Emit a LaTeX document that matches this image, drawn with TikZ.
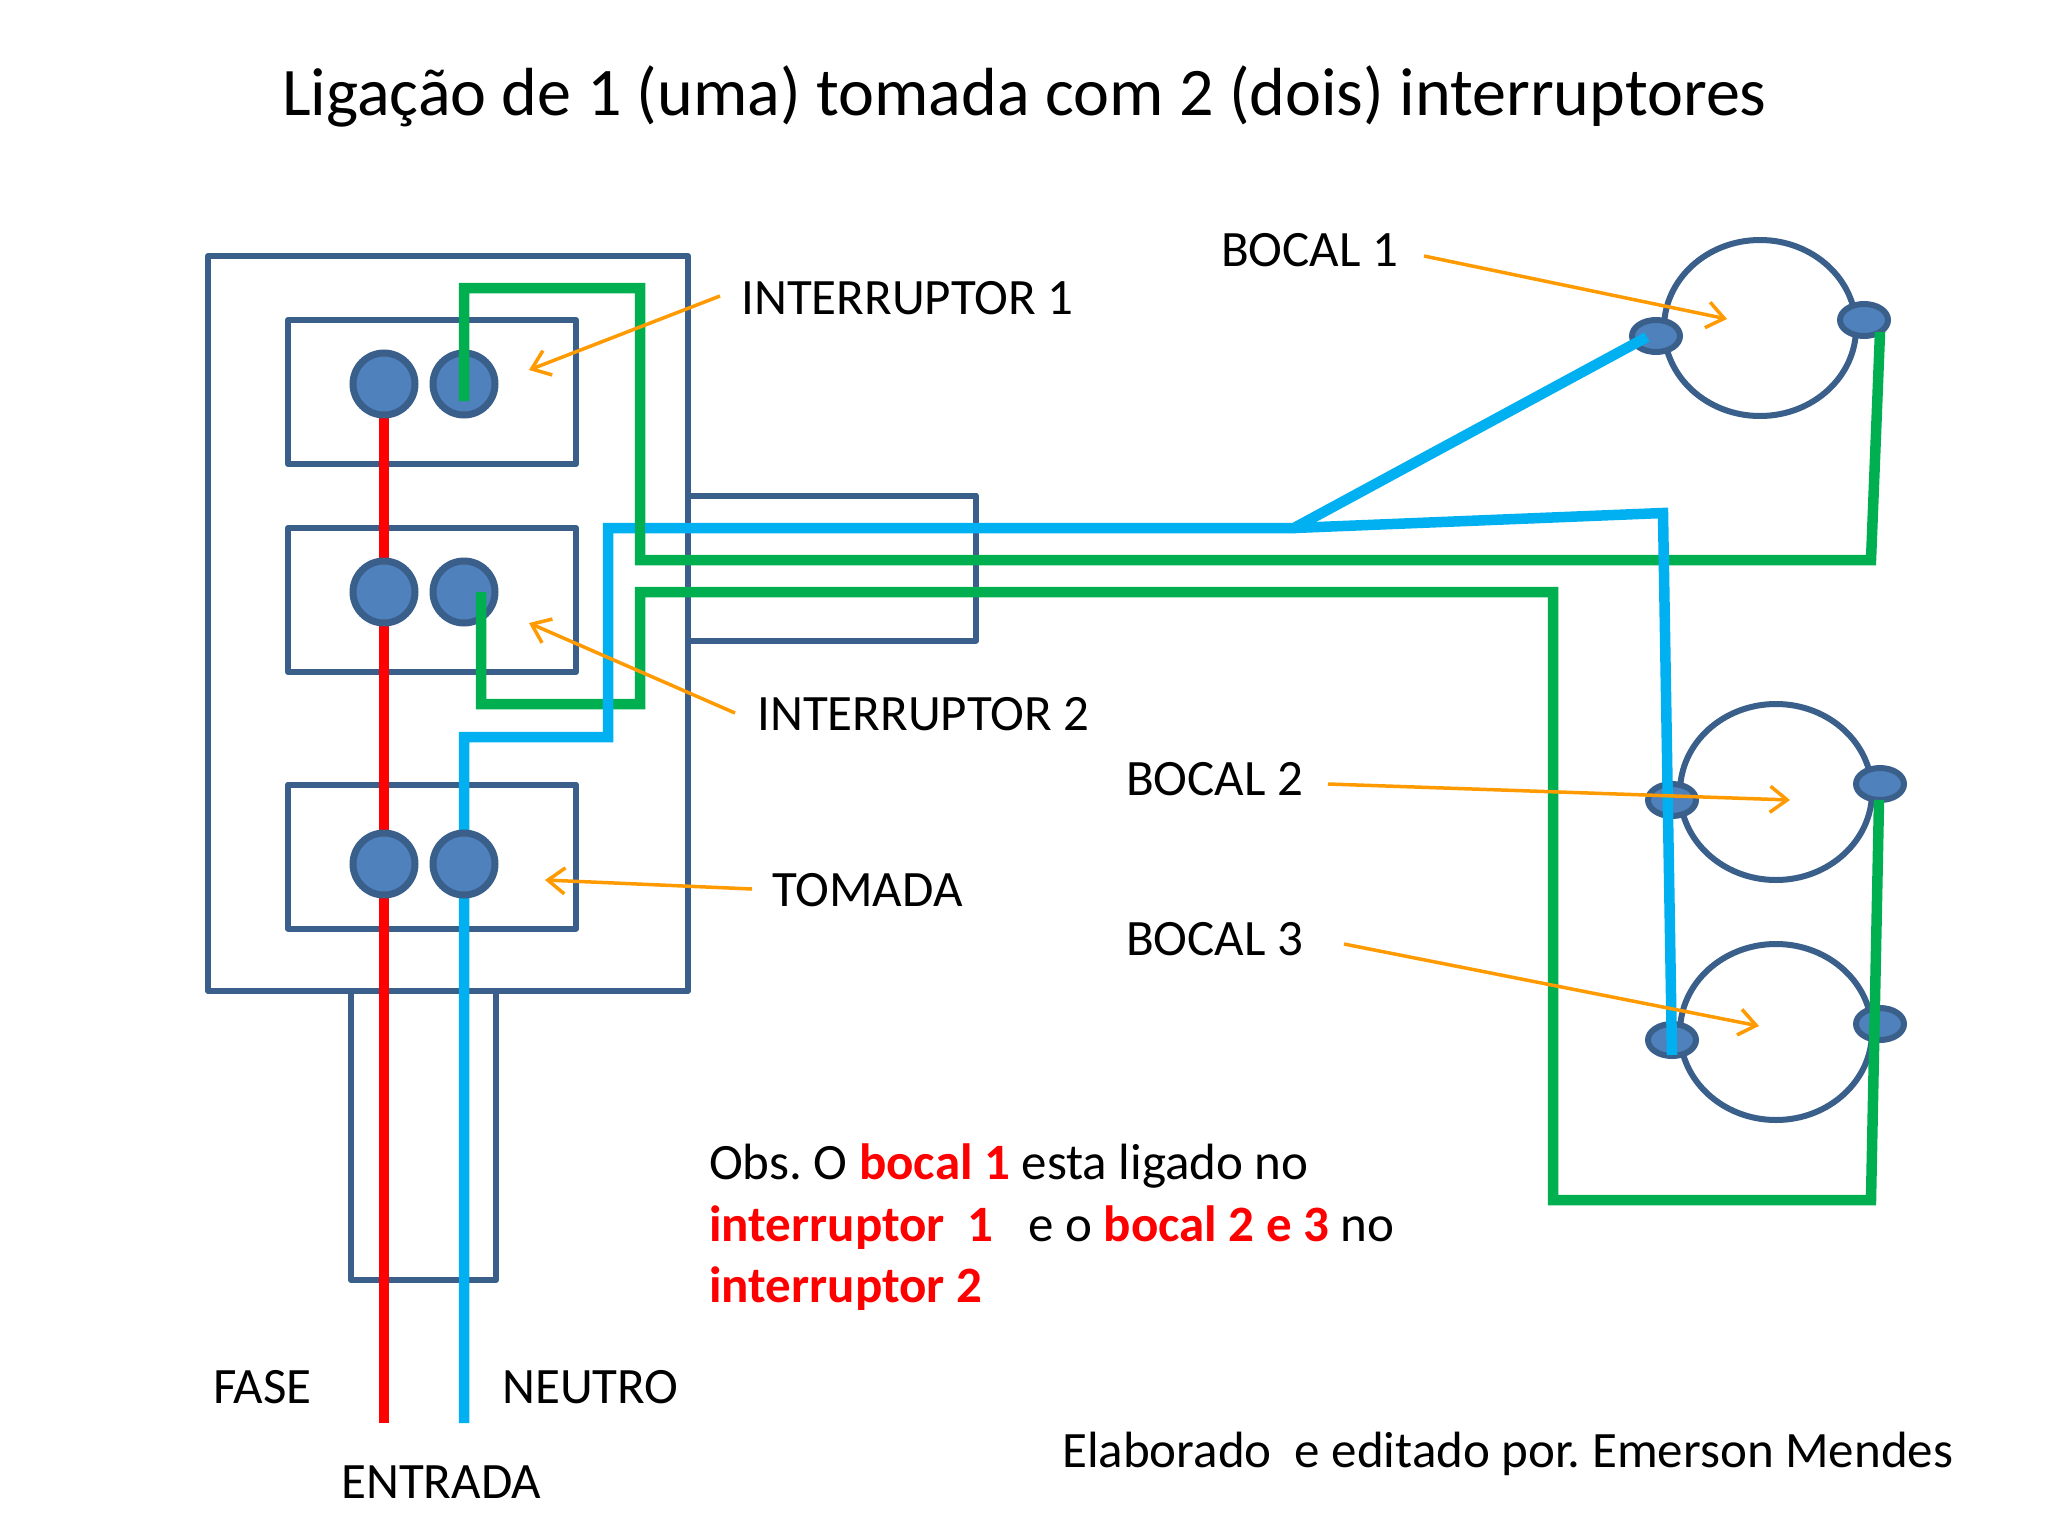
\documentclass[tikz,border=0pt]{standalone}
\usepackage{fontspec}
\setmainfont{Carlito}
\frenchspacing
\usetikzlibrary{arrows.meta,shapes.geometric}
\definecolor{edgeblue}{HTML}{3A5F8B}
\definecolor{fillblue}{HTML}{4F81BD}
\definecolor{wgreen}{HTML}{00B050}
\definecolor{wblue}{HTML}{00B0F0}
\definecolor{wred}{HTML}{FF0000}
\definecolor{callout}{HTML}{FF9A00}
\tikzset{
  framebox/.style={draw=edgeblue,line width=6pt,rectangle,inner sep=0pt,line join=round},
  terminal/.style={circle,draw=edgeblue,fill=fillblue,line width=7pt,inner sep=0pt,minimum size=62pt},
  lamp/.style={ellipse,draw=edgeblue,line width=6pt,inner sep=0pt,minimum width=192pt,minimum height=176pt},
  contact/.style={ellipse,draw=edgeblue,fill=fillblue,line width=6pt,inner sep=0pt,minimum width=48pt,minimum height=32pt},
  wire/.style={line width=10.5pt,line join=miter,line cap=butt},
  greenwire/.style={wire,draw=wgreen},
  bluewire/.style={wire,draw=wblue},
  redwire/.style={wire,draw=wred},
  pointer/.style={draw=callout,line width=3.5pt,-{Straight Barb[length=17pt,width=26pt,line width=3.5pt]}},
  label/.style={anchor=base west,inner sep=0pt,font=\fontsize{51}{51}\selectfont}
}
\newcommand{\hl}[1]{\textcolor{wred}{\textbf{#1}}}
\begin{document}
\begin{tikzpicture}[x=1pt,y=-1pt]
\useasboundingbox (0,0) rectangle (2048,1536);
\fill[white] (0,0) rectangle (2048,1536);
% enclosures
\node[framebox,minimum width=480pt,minimum height=735pt] (panel) at (448,623.5) {};
\node[framebox,minimum width=288pt,minimum height=144pt] (sw1) at (432,392) {};
\node[framebox,minimum width=288pt,minimum height=144pt] (sw2) at (432,600) {};
\node[framebox,minimum width=288pt,minimum height=144pt] (out) at (432,856.5) {};
\node[framebox,minimum width=288pt,minimum height=145pt] (conduitR) at (832,568) {};
\node[framebox,minimum width=145pt,minimum height=289pt] (conduitB) at (423.5,1280-144.5) {};
% lamps
\node[lamp] (lamp1) at (1760,328) {};
\node[lamp] (lamp2) at (1776,792) {};
\node[lamp] (lamp3) at (1776,1032) {};
\node[contact] (l1a) at (1656,336) {};
\node[contact] (l1b) at (1864,320) {};
\node[contact] (l2a) at (1672,800) {};
\node[contact] (l2b) at (1880,784) {};
\node[contact] (l3a) at (1672,1040) {};
\node[contact] (l3b) at (1880,1024) {};
% switch terminals under wires
\node[terminal] (s1b) at (464,384) {};
\node[terminal] (s2b) at (464,592) {};
% wire corner points
\coordinate (g1s) at (464,401);
\coordinate (g1a) at (464,288);
\coordinate (g1b) at (640,288);
\coordinate (g1c) at (640,560);
\coordinate (g1d) at (1871,560);
\coordinate (g1e) at (1880,332);
\coordinate (g2s) at (481,592);
\coordinate (g2a) at (481,704);
\coordinate (g2b) at (640,704);
\coordinate (g2c) at (640,592);
\coordinate (g2d) at (1553,592);
\coordinate (g2e) at (1553,1200);
\coordinate (g2f) at (1871,1200);
\coordinate (g2g) at (1879,800);
\coordinate (ne) at (464,1423);
\coordinate (na) at (464,737);
\coordinate (nb) at (608,737);
\coordinate (nc) at (608,528);
\coordinate (nd) at (1294,528);
\coordinate (ne1) at (1647,337);
\coordinate (nf) at (1663,513);
\coordinate (ng) at (1672,1055);
\coordinate (fe) at (384,1423);
\coordinate (gx) at (640,510);
\coordinate (gy) at (640,545);
% green
\draw[greenwire] (g1s) -- (g1a) -- (g1b) -- (g1c) -- (g1d) -- (g1e);
\draw[greenwire] (g2s) -- (g2a) -- (g2b) -- (g2c) -- (g2d) -- (g2e) -- (g2f) -- (g2g);
% blue
\draw[bluewire] (ne) -- (na) -- (nb) -- (nc) -- (nd) -- (ne1);
\draw[bluewire] (nd) -- (nf) -- (ng);
% green passes over the blue inside the panel
\draw[greenwire] (gx) -- (gy);
% red
\draw[redwire] (fe) -- (384,416);
% other terminals
\node[terminal] (s1a) at (384,384) {};
\node[terminal] (s2a) at (384,592) {};
\node[terminal] (t1) at (384,864) {};
\node[terminal] (t2) at (464,864) {};
% labels
\node[anchor=base west,inner sep=0pt,font=\fontsize{68.1}{68.1}\selectfont] (title) at (282,116) {Ligação de 1 (uma) tomada com 2 (dois) interruptores};
\node[label] (lint1) at (741,314) {INTERRUPTOR 1};
\node[label] (lint2) at (757,730) {INTERRUPTOR 2};
\node[label] (ltom) at (772,906) {TOMADA};
\node[label] (lb1) at (1221,266) {BOCAL 1};
\node[label] (lb2) at (1126,795) {BOCAL 2};
\node[label] (lb3) at (1126,955) {BOCAL 3};
\node[label] (obs1) at (709,1179) {Obs. O \hl{bocal 1} esta ligado no};
\node[label] (obs2) at (709,1241) {\hl{interruptor\ \ 1}\ \ \ e o \hl{bocal 2 e 3} no};
\node[label] (obs3) at (709,1302) {\hl{interruptor 2}};
\node[label] (fase) at (213,1403) {FASE};
\node[label] (neutro) at (502,1403) {NEUTRO};
\node[label] (entrada) at (341,1498) {ENTRADA};
\node[label] (credit) at (1062,1467) {Elaborado\ \ e editado por. Emerson Mendes};
% pointers
\coordinate (p1s) at (720,296);
\coordinate (p1e) at (529,370);
\coordinate (p2s) at (735,713);
\coordinate (p2e) at (529,623);
\coordinate (p3s) at (752,889);
\coordinate (p3e) at (545,880);
\coordinate (p4s) at (1424,256);
\coordinate (p4e) at (1727,319);
\coordinate (p5s) at (1328,784);
\coordinate (p5e) at (1790,800);
\coordinate (p6s) at (1344,944);
\coordinate (p6e) at (1759,1026);
\draw[pointer] (p1s) -- (p1e);
\draw[pointer] (p2s) -- (p2e);
\draw[pointer] (p3s) -- (p3e);
\draw[pointer] (p4s) -- (p4e);
\draw[pointer] (p5s) -- (p5e);
\draw[pointer] (p6s) -- (p6e);
\end{tikzpicture}
\end{document}
